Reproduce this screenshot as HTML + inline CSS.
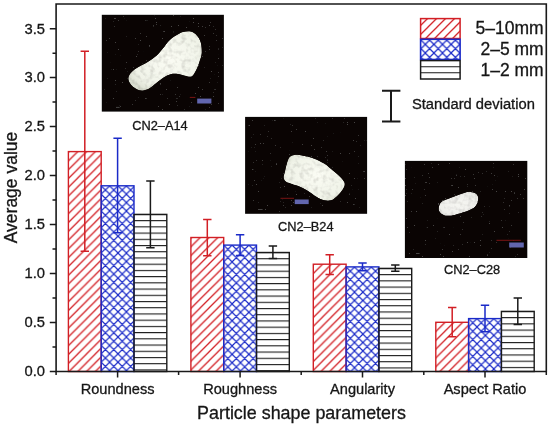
<!DOCTYPE html>
<html><head><meta charset="utf-8"><title>Particle shape parameters</title>
<style>html,body{margin:0;padding:0;background:#fff}svg{display:block;filter:blur(0.35px)}text{font-family:"Liberation Sans",Arial,sans-serif;fill:#161616;stroke:#161616;stroke-width:0.3px}</style></head><body>
<svg width="550" height="429" viewBox="0 0 550 429">
<defs>
<pattern id="hr" patternUnits="userSpaceOnUse" width="8.8" height="8.8" x="0.50" y="0.00"><path d="M-8.8 17.6 L17.6 -8.8 M-8.8 8.8 L8.8 -8.8 M0 17.6 L17.6 0" stroke="#d21f25" stroke-width="1.3" fill="none"/></pattern>
<pattern id="hb" patternUnits="userSpaceOnUse" width="8.4" height="8.4" x="0.00" y="0.00"><path d="M-8.4 16.8 L16.8 -8.4 M-8.4 8.4 L8.4 -8.4 M0 16.8 L16.8 0 M-8.4 -8.4 L16.8 16.8 M0 -8.4 L16.8 8.4 M-8.4 0 L8.4 16.8" stroke="#1a2ac8" stroke-width="1.18" fill="none"/></pattern>
<pattern id="lr" patternUnits="userSpaceOnUse" width="9" height="9" x="5.10" y="0.00"><path d="M-9 18 L18 -9 M-9 9 L9 -9 M0 18 L18 0" stroke="#d21f25" stroke-width="1.3" fill="none"/></pattern>
<pattern id="lb" patternUnits="userSpaceOnUse" width="8.6" height="8.6" x="3.90" y="1.40"><path d="M-8.6 17.2 L17.2 -8.6 M-8.6 8.6 L8.6 -8.6 M0 17.2 L17.2 0 M-8.6 -8.6 L17.2 17.2 M0 -8.6 L17.2 8.6 M-8.6 0 L8.6 17.2" stroke="#1a2ac8" stroke-width="1.25" fill="none"/></pattern>
<pattern id="hk" patternUnits="userSpaceOnUse" width="10" height="6.22" x="0" y="-0.5"><path d="M0 0.5H10" stroke="#1a1a1a" stroke-width="1.2" fill="none"/></pattern>
<filter id="bl" x="-10%" y="-10%" width="120%" height="120%"><feTurbulence type="fractalNoise" baseFrequency="0.22" numOctaves="2" seed="3" result="n"/><feColorMatrix in="n" type="matrix" values="0 0 0 0 1  0 0 0 0 1  0 0 0 0 1  0.3 0 0 0 0.83" result="m"/><feGaussianBlur in="SourceGraphic" stdDeviation="0.7" result="b"/><feComposite in="b" in2="m" operator="arithmetic" k1="1" k2="0" k3="0" k4="0" result="t"/><feComposite in="t" in2="b" operator="in"/></filter>
<filter id="sp" x="0" y="0" width="100%" height="100%"><feTurbulence type="fractalNoise" baseFrequency="0.55" numOctaves="2" seed="11" result="n"/><feColorMatrix in="n" type="matrix" values="0 0 0 0 0.75  0 0 0 0 0.75  0 0 0 0 0.75  16 0 0 0 -12.1" result="s"/><feComposite in="s" in2="SourceGraphic" operator="over"/></filter>
<filter id="bl2" x="-20%" y="-20%" width="140%" height="140%"><feGaussianBlur stdDeviation="2.2"/></filter>
<radialGradient id="gA" cx="0.55" cy="0.45" r="0.7"><stop offset="0" stop-color="#fbfcf4"/><stop offset="0.7" stop-color="#f0f3e8"/><stop offset="1" stop-color="#d6dacb"/></radialGradient>
<radialGradient id="gC" cx="0.5" cy="0.5" r="0.7"><stop offset="0" stop-color="#f6f6f2"/><stop offset="0.7" stop-color="#eeeeea"/><stop offset="1" stop-color="#d4d4d0"/></radialGradient>
</defs>
<rect width="550" height="429" fill="#fff"/>
<rect transform="translate(68.4 151.6)" width="32.8" height="219.9" fill="url(#hr)" stroke="#d21f25" stroke-width="1.4"/>
<rect transform="translate(101.2 185.8)" width="32.8" height="185.7" fill="url(#hb)" stroke="#1a2ac8" stroke-width="1.4"/>
<rect transform="translate(134.0 214.4)" width="32.8" height="157.1" fill="url(#hk)" stroke="#1a1a1a" stroke-width="1.4"/>
<path d="M84.8 51.3V251.3M80.6 51.3h8.4M80.6 251.3h8.4" stroke="#d21f25" stroke-width="1.5" fill="none"/>
<path d="M117.6 138.3V232.7M113.4 138.3h8.4M113.4 232.7h8.4" stroke="#1a2ac8" stroke-width="1.5" fill="none"/>
<path d="M150.4 180.9V247.7M146.2 180.9h8.4M146.2 247.7h8.4" stroke="#1a1a1a" stroke-width="1.5" fill="none"/>
<rect transform="translate(190.9 237.5)" width="32.8" height="134.0" fill="url(#hr)" stroke="#d21f25" stroke-width="1.4"/>
<rect transform="translate(223.7 245.1)" width="32.8" height="126.4" fill="url(#hb)" stroke="#1a2ac8" stroke-width="1.4"/>
<rect transform="translate(256.5 252.5)" width="32.8" height="119.0" fill="url(#hk)" stroke="#1a1a1a" stroke-width="1.4"/>
<path d="M207.3 219.4V255.8M203.1 219.4h8.4M203.1 255.8h8.4" stroke="#d21f25" stroke-width="1.5" fill="none"/>
<path d="M240.1 234.7V255.4M235.9 234.7h8.4M235.9 255.4h8.4" stroke="#1a2ac8" stroke-width="1.5" fill="none"/>
<path d="M272.9 246.0V258.6M268.7 246.0h8.4M268.7 258.6h8.4" stroke="#1a1a1a" stroke-width="1.5" fill="none"/>
<rect transform="translate(313.3 264.2)" width="32.8" height="107.3" fill="url(#hr)" stroke="#d21f25" stroke-width="1.4"/>
<rect transform="translate(346.1 266.9)" width="32.8" height="104.6" fill="url(#hb)" stroke="#1a2ac8" stroke-width="1.4"/>
<rect transform="translate(378.9 268.4)" width="32.8" height="103.1" fill="url(#hk)" stroke="#1a1a1a" stroke-width="1.4"/>
<path d="M329.7 254.8V274.5M325.5 254.8h8.4M325.5 274.5h8.4" stroke="#d21f25" stroke-width="1.5" fill="none"/>
<path d="M362.5 262.9V270.8M358.3 262.9h8.4M358.3 270.8h8.4" stroke="#1a2ac8" stroke-width="1.5" fill="none"/>
<path d="M395.3 265.1V271.2M391.1 265.1h8.4M391.1 271.2h8.4" stroke="#1a1a1a" stroke-width="1.5" fill="none"/>
<rect transform="translate(435.8 322.3)" width="32.8" height="49.2" fill="url(#hr)" stroke="#d21f25" stroke-width="1.4"/>
<rect transform="translate(468.6 318.6)" width="32.8" height="52.9" fill="url(#hb)" stroke="#1a2ac8" stroke-width="1.4"/>
<rect transform="translate(501.4 311.4)" width="32.8" height="60.1" fill="url(#hk)" stroke="#1a1a1a" stroke-width="1.4"/>
<path d="M452.2 307.4V336.7M448.0 307.4h8.4M448.0 336.7h8.4" stroke="#d21f25" stroke-width="1.5" fill="none"/>
<path d="M485.0 305.3V331.7M480.8 305.3h8.4M480.8 331.7h8.4" stroke="#1a2ac8" stroke-width="1.5" fill="none"/>
<path d="M517.8 297.9V324.5M513.6 297.9h8.4M513.6 324.5h8.4" stroke="#1a1a1a" stroke-width="1.5" fill="none"/>
<path d="M56.1 4.0H546.3V371.5H56.1Z" fill="none" stroke="#1a1a1a" stroke-width="1.6"/>
<path d="M56.1 371.5h-6.3M56.1 347.0h-3.6M56.1 322.5h-6.3M56.1 298.0h-3.6M56.1 273.6h-6.3M56.1 249.1h-3.6M56.1 224.6h-6.3M56.1 200.1h-3.6M56.1 175.6h-6.3M56.1 151.1h-3.6M56.1 126.6h-6.3M56.1 102.1h-3.6M56.1 77.6h-6.3M56.1 53.2h-3.6M56.1 28.7h-6.3" stroke="#1a1a1a" stroke-width="1.5" fill="none"/>
<text x="45.0" y="376.3" font-size="14.75" text-anchor="end">0.0</text>
<text x="45.0" y="327.3" font-size="14.75" text-anchor="end">0.5</text>
<text x="45.0" y="278.4" font-size="14.75" text-anchor="end">1.0</text>
<text x="45.0" y="229.4" font-size="14.75" text-anchor="end">1.5</text>
<text x="45.0" y="180.4" font-size="14.75" text-anchor="end">2.0</text>
<text x="45.0" y="131.4" font-size="14.75" text-anchor="end">2.5</text>
<text x="45.0" y="82.4" font-size="14.75" text-anchor="end">3.0</text>
<text x="45.0" y="33.5" font-size="14.75" text-anchor="end">3.5</text>
<path d="M117.6 371.5v6M240.1 371.5v6M362.5 371.5v6M485.0 371.5v6M56.1 371.5v3.5M178.6 371.5v3.5M301.2 371.5v3.5M423.8 371.5v3.5M546.3 371.5v3.5" stroke="#1a1a1a" stroke-width="1.5" fill="none"/>
<text x="117.6" y="394.4" font-size="14.6" text-anchor="middle">Roundness</text>
<text x="240.1" y="394.4" font-size="14.6" text-anchor="middle">Roughness</text>
<text x="362.5" y="394.4" font-size="14.6" text-anchor="middle">Angularity</text>
<text x="485.0" y="394.4" font-size="14.6" text-anchor="middle">Aspect Ratio</text>
<text x="301.5" y="418.6" font-size="17.9" text-anchor="middle">Particle shape parameters</text>
<text transform="translate(16.8 187.5) rotate(-90)" font-size="17.5" text-anchor="middle">Average value</text>
<rect x="420.6" y="18.6" width="39.5" height="19.9" fill="url(#lr)" stroke="#d21f25" stroke-width="1.5"/>
<rect x="420.6" y="39.3" width="39.5" height="20.2" fill="url(#lb)" stroke="#1a2ac8" stroke-width="1.6"/>
<rect x="420.6" y="60.6" width="39.5" height="18.4" fill="#fff" stroke="#1a1a1a" stroke-width="1.5"/>
<path d="M420.6 66.8h39.5M420.6 72.8h39.5" stroke="#1a1a1a" stroke-width="1.1"/>
<text x="543.7" y="34.4" font-size="17.5" text-anchor="end">5–10mm</text>
<text x="543.7" y="55.1" font-size="17.5" text-anchor="end">2–5 mm</text>
<text x="543.7" y="75.6" font-size="17.5" text-anchor="end">1–2 mm</text>
<path d="M391 90.8V121.4M382 90.8h18.4M382 121.4h18.4" stroke="#1a1a1a" stroke-width="2" fill="none"/>
<text x="411.9" y="109" font-size="14.75">Standard deviation</text>
<rect x="101.8" y="14.8" width="122.1" height="96.8" fill="#090605"/>
<rect x="102.8" y="15.8" width="120.1" height="94.8" fill="#090605" filter="url(#sp)" opacity="0.28"/>
<path d="M128.4 77.4C128.1 79.2 128.7 81.0 129.6 82.7C130.5 84.4 132.1 86.3 134.0 87.6C135.9 88.9 138.5 90.4 141.0 90.6C143.5 90.8 146.2 90.1 148.8 88.8C151.5 87.5 154.2 84.6 156.7 82.7C159.2 80.8 161.4 78.8 163.7 77.4C166.0 76.0 168.4 74.9 170.7 74.3C173.0 73.7 175.4 73.7 177.7 74.0C180.0 74.2 182.4 75.3 184.7 75.7C187.0 76.1 189.8 77.4 191.7 76.6C193.6 75.7 194.7 72.9 196.0 70.5C197.4 68.0 198.6 64.6 199.5 61.7C200.5 58.8 201.6 56.2 201.8 53.0C202.0 49.8 201.6 45.4 200.8 42.5C200.0 39.6 198.6 37.3 196.9 35.5C195.3 33.7 193.1 32.2 190.8 31.6C188.5 31.1 185.4 31.4 182.9 32.0C180.5 32.6 178.3 34.0 175.9 35.5C173.6 36.9 171.1 38.5 169.0 40.7C166.8 42.9 164.9 46.1 162.8 48.6C160.8 51.1 159.2 53.4 156.7 55.6C154.2 57.8 151.0 59.8 148.0 61.7C144.9 63.6 141.1 65.2 138.4 67.0C135.6 68.7 133.0 70.5 131.4 72.2C129.7 74.0 128.7 75.7 128.4 77.4Z" fill="url(#gA)" filter="url(#bl)"/>
<rect x="197.2" y="98.6" width="14.2" height="4.9" fill="#6266ae"/>
<path d="M189.8 97.4h5.6" stroke="#7a1414" stroke-width="1"/>
<path d="M116 107.4h3.6" stroke="#555" stroke-width="0.8"/>
<text x="160" y="130.1" font-size="12.8" text-anchor="middle">CN2–A14</text>
<rect x="245.1" y="116.9" width="122.0" height="96.9" fill="#090605"/>
<rect x="246.1" y="117.9" width="120.0" height="94.9" fill="#090605" filter="url(#sp)" opacity="0.28"/>
<path d="M283.6 177.6C283.5 175.9 284.4 173.7 284.9 171.5C285.4 169.3 285.9 166.8 286.6 164.5C287.3 162.1 287.9 159.1 289.2 157.5C290.5 155.9 292.1 155.2 294.5 154.9C296.8 154.6 300.0 155.2 303.2 155.7C306.4 156.3 310.2 157.0 313.7 158.4C317.2 159.7 321.0 161.6 324.2 163.6C327.4 165.6 330.2 168.3 332.9 170.6C335.7 172.9 338.8 175.4 340.8 177.6C342.8 179.8 344.5 181.7 344.8 183.7C345.1 185.7 343.8 187.8 342.6 189.8C341.3 191.9 339.2 194.2 337.3 195.9C335.4 197.7 333.4 199.6 331.2 200.3C329.0 201.0 326.7 200.9 324.2 200.3C321.7 199.7 319.1 198.4 316.3 196.8C313.6 195.2 310.5 192.4 307.6 190.7C304.7 189.0 301.6 187.5 298.8 186.3C296.1 185.2 293.2 184.5 291.0 183.7C288.8 182.9 287.0 182.6 285.7 181.6C284.5 180.6 283.8 179.3 283.6 177.6Z" fill="url(#gA)" filter="url(#bl)"/>
<rect x="294.7" y="199.5" width="14" height="4.6" fill="#6266ae"/>
<path d="M280.5 198.3h13.5" stroke="#7a1414" stroke-width="1"/>
<path d="M259 209.5h3.6" stroke="#555" stroke-width="0.8"/>
<text x="305.8" y="230.9" font-size="12.8" text-anchor="middle">CN2–B24</text>
<rect x="404.9" y="160.9" width="122.4" height="97.1" fill="#090605"/>
<rect x="405.9" y="161.9" width="120.4" height="95.1" fill="#090605" filter="url(#sp)" opacity="0.28"/>
<path d="M438.7 208.0C438.8 206.8 439.1 205.3 439.8 204.0C440.5 202.8 441.4 201.8 443.0 200.8C444.7 199.8 447.2 199.1 449.6 198.2C452.0 197.2 455.1 196.1 457.5 195.3C459.9 194.4 461.8 193.5 464.0 192.9C466.2 192.3 468.6 191.7 470.6 191.9C472.5 192.0 474.6 192.6 475.8 193.6C477.1 194.5 477.9 196.0 478.2 197.5C478.4 199.0 478.0 201.1 477.4 202.7C476.8 204.4 475.9 206.1 474.5 207.3C473.2 208.6 471.2 209.3 469.3 210.2C467.3 211.1 465.1 211.8 462.7 212.6C460.3 213.4 457.5 214.4 454.8 214.9C452.2 215.5 449.2 216.0 447.0 215.8C444.8 215.7 443.0 214.7 441.7 213.9C440.4 213.1 439.6 212.0 439.1 211.0C438.6 210.0 438.6 209.1 438.7 208.0Z" fill="url(#gC)" filter="url(#bl)"/>
<rect x="509.2" y="242.5" width="14.6" height="5" fill="#6266ae"/>
<path d="M496.5 240.3h24.3" stroke="#7a1414" stroke-width="1"/>
<path d="M416 253.5h3.6" stroke="#555" stroke-width="0.8"/>
<text x="472.1" y="274.3" font-size="12.8" text-anchor="middle">CN2–C28</text>
</svg></body></html>
